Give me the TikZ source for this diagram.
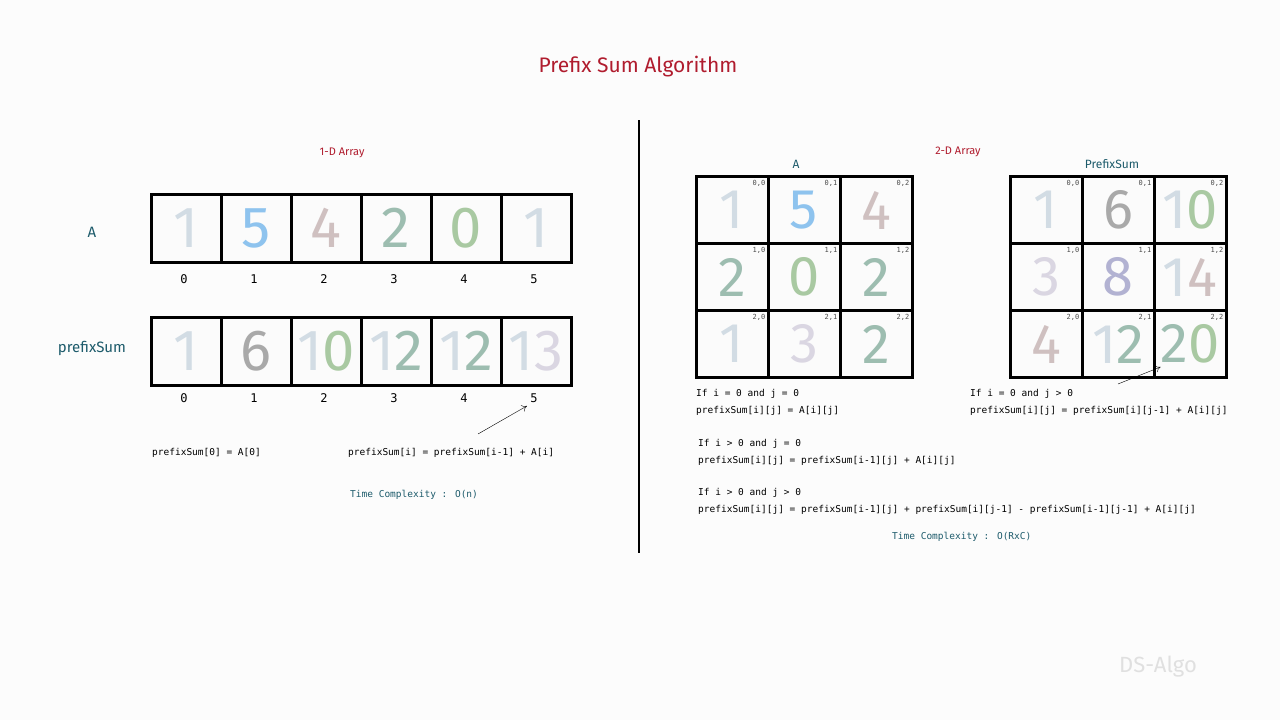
\documentclass[tikz,border=0pt]{standalone}
\usepackage{fontspec}
\usetikzlibrary{arrows.meta}
\setmainfont{Fira Sans}
\newfontfamily\monof{DejaVu Sans Mono}
\definecolor{c0}{HTML}{A9C9A2}
\definecolor{c1}{HTML}{D2DCE4}
\definecolor{c2}{HTML}{9DBDB0}
\definecolor{c3}{HTML}{DAD6E2}
\definecolor{c4}{HTML}{CFC0C0}
\definecolor{c5}{HTML}{8EC3EE}
\definecolor{c6}{HTML}{A9A9A9}
\definecolor{c8}{HTML}{B2B2D2}
\definecolor{titlered}{HTML}{B01C2E}
\definecolor{teal}{HTML}{1D5B6B}
\newcommand\dc[1]{\textcolor{c#1}{#1}}
\tikzset{
  cell/.style={draw=black,line width=3pt,fill=white!97!gray,minimum width=70pt,minimum height=68pt,inner sep=0pt,font=\fontsize{58}{58}\selectfont},
  gcell/.style={draw=black,line width=3pt,fill=white!97!gray,minimum width=72pt,minimum height=67pt,inner sep=0pt,font=\fontsize{56}{56}\selectfont},
  idx/.style={font=\monof\fontsize{12}{12}\selectfont},
  mono/.style={font=\monof\fontsize{9.5}{17}\selectfont,anchor=west,inner sep=0pt,align=left},
  small/.style={font=\monof\fontsize{7}{7}\selectfont,text=black!70,inner sep=0pt,anchor=north east},
  arr/.style={-{To[length=5pt,width=7pt]},thin},
}
\begin{document}
\begin{tikzpicture}[x=1pt,y=-1pt]
\fill[white!98!gray] (0,0) rectangle (1280,720);
\useasboundingbox (0,0) rectangle (1280,720);
\node[text=titlered,font=\fontsize{21}{21}\selectfont] (title) at (638,67) {Prefix Sum Algorithm};
\draw[line width=2.5pt] (639,120) -- (639,553);
\node[text=titlered,font=\fontsize{11}{11}\selectfont] (t1) at (342,153) {1-D Array};
\node[text=titlered,font=\fontsize{11}{11}\selectfont] (t2) at (958,152) {2-D Array};
\node[text=teal,font=\fontsize{15}{15}\selectfont] (la) at (92,232) {A};
\node[text=teal,font=\fontsize{15}{15}\selectfont] (lp) at (92,348) {prefixSum};
\foreach \v [count=\i from 0] in {1,5,4,2,0,1}{
  \node[cell] (a\i) at (186+70*\i,228) {\dc{\v}};
  \node[idx] (ai\i) at (184+70*\i,279) {\i};
}
\foreach \v [count=\i from 0] in {{\dc1},{\dc6},{\dc1\dc0},{\dc1\dc2},{\dc1\dc2},{\dc1\dc3}}{
  \node[cell] (p\i) at (186+70*\i,351) {\v};
  \node[idx] (pi\i) at (184+70*\i,398) {\i};
}
\node[mono] (f1) at (152,453) {prefixSum[0] = A[0]};
\node[mono] (f2) at (348,453) {prefixSum[i] = prefixSum[i-1] + A[i]};
\coordinate (ar1) at (478,434);
\draw[arr] (ar1) -- (pi5.south west);
\node[mono,text=teal] (tc1) at (350,495) {Time Complexity : O(n)};
\node[text=teal,font=\fontsize{12}{12}\selectfont] (lA) at (796,164) {A};
\node[text=teal,font=\fontsize{12}{12}\selectfont] (lP) at (1112,164) {PrefixSum};
\foreach \r/\row in {0/{1,5,4},1/{2,0,2},2/{1,3,2}}{
  \foreach \v [count=\c from 0] in \row {
    \node[gcell] (g\r\c) at (732+72*\c,210+67*\r) {\dc{\v}};
    \node[small] at ([shift={(-4,5)}]g\r\c.north east) {\r,\c};
  }
}
\foreach \r/\row in {0/{{\dc1},{\dc6},{\dc1\dc0}},1/{{\dc3},{\dc8},{\dc1\dc4}},2/{{\dc4},{\dc1\dc2},{\dc2\dc0}}}{
  \foreach \v [count=\c from 0] in \row {
    \node[gcell] (h\r\c) at (1046+72*\c,210+67*\r) {\v};
    \node[small] at ([shift={(-4,5)}]h\r\c.north east) {\r,\c};
  }
}
\node[mono] (c1) at (696,402) {If i = 0 and j = 0\\prefixSum[i][j] = A[i][j]};
\node[mono] (c2) at (970,402) {If i = 0 and j > 0\\prefixSum[i][j] = prefixSum[i][j-1] + A[i][j]};
\node[mono] (c3) at (698,452) {If i > 0 and j = 0\\prefixSum[i][j] = prefixSum[i-1][j] + A[i][j]};
\node[mono] (c4) at (698,501) {If i > 0 and j > 0\\prefixSum[i][j] = prefixSum[i-1][j] + prefixSum[i][j-1] - prefixSum[i-1][j-1] + A[i][j]};
\coordinate (ar2) at (1118,384);
\draw[arr] (ar2) -- ([shift={(8,-12)}]h22.south west);
\node[mono,text=teal] (tc2) at (892,537) {Time Complexity : O(RxC)};
\node[text=black!12,font=\fontsize{22}{22}\selectfont] (wm) at (1158,667) {DS-Algo};
\end{tikzpicture}
\end{document}
